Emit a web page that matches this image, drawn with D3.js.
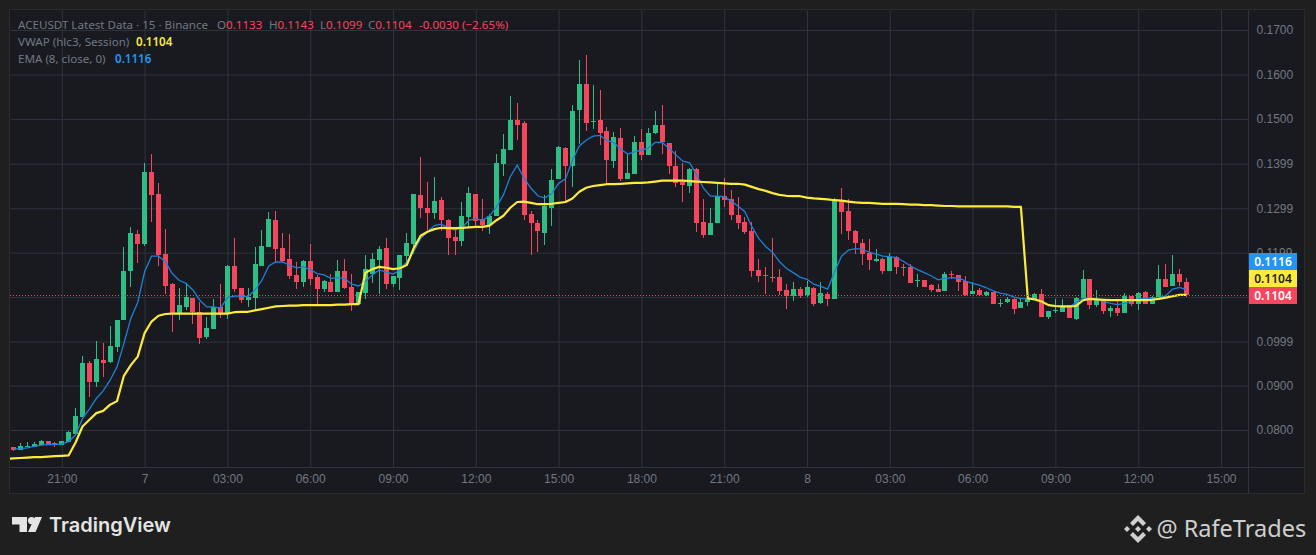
<!DOCTYPE html>
<html>
<head>
<meta charset="utf-8">
<script src="https://cdn.jsdelivr.net/npm/d3@7"></script>
<style>
  html, body { margin: 0; padding: 0; background: #1f1f1f; overflow: hidden; }
  svg { display: block; font-family: 'Noto Sans', sans-serif; }
</style>
</head>
<body>
<div class="container"></div>
<script>
// all prices in units of 0.0001, candle index 0 is 19:15
const opens = [
  762,755,762,762,766,775,771,766,773,791,
  829,951,908,958,953,987,1048,1158,1241,1219,
  1381,1331,1196,1129,1063,1077,1097,1066,1009,1027,
  1077,1061,1169,1120,1093,1097,1169,1212,1273,1210,
  1185,1149,1133,1180,1144,1117,1133,1111,1158,1122,
  1084,1108,1151,1182,1210,1128,1142,1191,1219,1329,
  1300,1288,1317,1272,1234,1225,1279,1331,1275,1261,
  1282,1399,1430,1497,1491,1286,1266,1243,1300,1365,
  1434,1394,1520,1578,1493,1497,1473,1405,1457,1365,
  1376,1448,1419,1468,1486,1446,1394,1358,1349,1387,
  1268,1239,1266,1327,1320,1284,1268,1248,1160,1149,
  1144,1144,1115,1101,1117,1103,1120,1086,1106,1095,
  1317,1293,1248,1221,1198,1180,1185,1158,1189,1167,
  1167,1135,1138,1126,1117,1113,1151,1149,1135,1106,
  1115,1104,1111,1084,1088,1095,1075,1088,1093,1106,
  1054,1068,1066,1079,1050,1097,1140,1081,1095,1068,
  1075,1063,1102,1084,1111,1084,1099,1140,1124,1151,
  1133
]
const highs = [
  762,771,773,773,778,775,773,775,798,849,
  967,955,1000,996,1034,1048,1212,1257,1250,1401,
  1421,1356,1252,1131,1120,1131,1097,1088,1054,1095,
  1129,1171,1232,1120,1120,1212,1250,1291,1293,1243,
  1241,1178,1183,1219,1149,1138,1151,1183,1185,1151,
  1111,1194,1198,1214,1232,1147,1194,1243,1331,1414,
  1358,1369,1324,1275,1252,1313,1347,1331,1320,1286,
  1421,1466,1552,1536,1495,1293,1272,1329,1387,1439,
  1437,1531,1632,1644,1576,1565,1482,1470,1480,1421,
  1462,1477,1480,1518,1531,1446,1428,1401,1390,1390,
  1320,1300,1354,1367,1340,1324,1279,1268,1185,1167,
  1232,1162,1128,1133,1122,1135,1122,1133,1110,1322,
  1344,1320,1250,1230,1230,1207,1187,1198,1191,1174,
  1174,1151,1138,1128,1128,1156,1158,1149,1147,1133,
  1120,1113,1111,1095,1099,1097,1095,1102,1108,1117,
  1068,1095,1095,1081,1099,1160,1140,1115,1095,1079,
  1093,1108,1102,1111,1113,1102,1171,1174,1194,1162,
  1143
]
const lows = [
  753,755,762,762,766,768,762,766,773,791,
  829,874,897,919,951,976,1048,1122,1176,1214,
  1268,1169,1106,1020,1048,1070,1039,994,1005,1027,
  1052,1050,1111,1086,1077,1070,1169,1212,1176,1176,
  1140,1117,1122,1126,1084,1111,1110,1111,1117,1068,
  1084,1095,1131,1106,1117,1122,1115,1171,1196,1277,
  1250,1275,1248,1194,1194,1214,1255,1257,1248,1241,
  1282,1371,1430,1452,1272,1194,1200,1216,1259,1365,
  1313,1347,1444,1473,1477,1441,1353,1389,1360,1365,
  1376,1407,1419,1466,1421,1376,1347,1313,1333,1246,
  1232,1239,1266,1302,1272,1252,1241,1144,1133,1106,
  1133,1104,1072,1090,1097,1099,1079,1084,1079,1095,
  1241,1228,1196,1171,1160,1178,1151,1158,1151,1147,
  1131,1122,1122,1111,1111,1113,1140,1113,1101,1106,
  1102,1102,1084,1077,1086,1061,1075,1079,1093,1054,
  1050,1063,1066,1052,1048,1097,1072,1077,1061,1054,
  1057,1063,1079,1070,1084,1084,1099,1122,1124,1124,
  1099
]
const closes = [
  755,764,764,769,776,768,769,775,796,832,
  951,909,960,951,989,1048,1158,1243,1219,1381,
  1329,1194,1124,1063,1081,1099,1065,1007,1030,1077,
  1059,1169,1117,1093,1099,1174,1214,1275,1207,1180,
  1147,1133,1180,1140,1117,1135,1110,1158,1120,1084,
  1111,1162,1185,1207,1128,1147,1194,1221,1331,1300,
  1288,1315,1272,1232,1225,1282,1333,1270,1261,1282,
  1401,1432,1497,1486,1284,1266,1248,1304,1362,1437,
  1394,1518,1578,1491,1495,1468,1407,1459,1365,1378,
  1448,1419,1468,1486,1448,1394,1356,1351,1387,1266,
  1239,1266,1327,1318,1284,1266,1246,1158,1147,1147,
  1142,1113,1101,1117,1101,1122,1084,1108,1095,1317,
  1290,1248,1221,1196,1183,1185,1158,1189,1167,1165,
  1131,1138,1122,1115,1111,1151,1149,1133,1104,1113,
  1104,1111,1084,1086,1095,1072,1088,1095,1106,1054,
  1068,1070,1079,1052,1097,1140,1081,1095,1068,1075,
  1063,1102,1084,1108,1084,1099,1140,1122,1151,1133,
  1104
]
const vwap = [
  736,737,738,739,739,740,741,742,743,772,
  808,823,838,843,857,865,922,946,965,1018,
  1044,1057,1061,1062,1062,1062,1062,1062,1062,1062,
  1062,1062,1065,1066,1066,1069,1072,1075,1078,1079,
  1080,1080,1081,1081,1081,1081,1081,1082,1082,1083,
  1083,1154,1162,1167,1165,1162,1164,1171,1209,1237,
  1246,1252,1255,1254,1254,1255,1256,1257,1257,1260,
  1272,1282,1300,1313,1314,1311,1308,1308,1309,1311,
  1313,1321,1336,1345,1349,1351,1353,1353,1354,1355,
  1356,1356,1357,1359,1361,1361,1361,1361,1360,1359,
  1358,1357,1356,1355,1354,1354,1352,1347,1342,1338,
  1333,1329,1327,1326,1326,1323,1321,1320,1319,1317,
  1316,1314,1312,1311,1311,1310,1309,1309,1309,1308,
  1307,1307,1306,1306,1305,1304,1304,1303,1303,1303,
  1303,1303,1303,1303,1303,1302,1302,1096,1094,1089,
  1081,1079,1078,1078,1079,1092,1095,1094,1093,1092,
  1092,1092,1092,1092,1092,1093,1095,1098,1101,1104,
  1104
]
// vwap runs in from the candle before the first visible one
const vwapBefore = 735
const ema = [
  757,758,760,763,766,767,767,769,774,789,
  826,847,871,888,912,942,995,1051,1087,1156,
  1191,1191,1179,1152,1137,1130,1115,1092,1077,1077,
  1074,1098,1101,1101,1100,1115,1137,1169,1178,1178,
  1171,1165,1167,1161,1152,1149,1141,1143,1141,1128,
  1124,1134,1149,1160,1155,1151,1160,1179,1201,1231,
  1246,1260,1263,1255,1250,1255,1272,1275,1272,1282,
  1302,1329,1370,1396,1366,1344,1327,1322,1332,1355,
  1365,1407,1439,1452,1461,1463,1451,1447,1432,1421,
  1426,1430,1434,1447,1447,1434,1419,1405,1401,1374,
  1344,1326,1326,1325,1315,1304,1291,1258,1231,1213,
  1200,1179,1164,1154,1144,1139,1128,1123,1117,1156,
  1191,1205,1208,1207,1200,1196,1191,1190,1188,1179,
  1169,1161,1154,1147,1138,1141,1143,1142,1135,1130,
  1126,1120,1113,1108,1105,1099,1096,1095,1096,1089,
  1081,1078,1078,1076,1087,1096,1096,1094,1089,1085,
  1082,1085,1089,1095,1096,1096,1098,1102,1117,1121,
  1116
]

const priceTicks = [0.17, 0.16, 0.15, 0.1399, 0.1299, 0.1199, 0.1099, 0.0999, 0.09, 0.08]
const timeTicks = [7, 19, 31, 43, 55, 67, 79, 91, 103, 115, 127, 139, 151, 163, 175]
const timeLabels = ['21:00', '7', '03:00', '06:00', '09:00', '12:00', '15:00', '18:00', '21:00', '8', '03:00', '06:00', '09:00', '12:00', '15:00']

const lastClose = closes[closes.length - 1]
const lastVwap = vwap[vwap.length - 1]
const lastEma = ema[ema.length - 1]

const W = 1316
const H = 555
const plot = { left: 10, top: 10, right: 1248, bottom: 467 }

const bg = '#181a20'
const gridColor = '#2e333d'
const frameColor = '#2b2b2b'
const textColor = '#727882'
const green = '#2ebd85'
const red = '#f6465d'
const yellow = '#fdeb3b'
const blue = '#1f80d8'

const px = (v) => v / 10000
const fmt = d3.format('.4f')

const svg = d3
  .select('.container')
  .append('svg')
  .attr('width', W)
  .attr('height', H)

svg.append('rect').attr('width', W).attr('height', H).attr('fill', '#1f1f1f')

svg
  .append('clipPath')
  .attr('id', 'plot-clip')
  .append('rect')
  .attr('x', plot.left)
  .attr('y', plot.top)
  .attr('width', plot.right - plot.left)
  .attr('height', plot.bottom - plot.top)

// chart panel incl. the price scale
svg
  .append('rect')
  .attr('x', plot.left - 0.5)
  .attr('y', plot.top - 0.5)
  .attr('width', 1305 - plot.left)
  .attr('height', 494 - plot.top)
  .attr('fill', bg)
  .attr('stroke', frameColor)

const x = d3.scaleLinear().domain([0, 170]).range([13.5, 1186.5])
const y = d3.scaleLinear().domain([0.08, 0.17]).range([430, 30])

// grid comes from the axes themselves
const yAxis = d3
  .axisRight(y)
  .tickValues(priceTicks)
  .tickFormat(fmt)
  .tickSize(-(plot.right - plot.left))
  .tickPadding(8)

const yG = svg
  .append('g')
  .attr('transform', `translate(${plot.right + 0.5},0)`)
  .call(yAxis)
yG.select('.domain').remove()
yG.selectAll('line').attr('stroke', gridColor)
yG.selectAll('text').attr('fill', textColor).attr('font-size', 12)

const xAxis = d3
  .axisBottom(x)
  .tickValues(timeTicks)
  .tickFormat((d, i) => timeLabels[i])
  .tickSize(-(plot.bottom - plot.top))
  .tickPadding(7)

const xG = svg
  .append('g')
  .attr('transform', `translate(0,${plot.bottom + 0.5})`)
  .call(xAxis)
xG.select('.domain').remove()
xG.selectAll('line').attr('stroke', gridColor)
xG.selectAll('text').attr('fill', textColor).attr('font-size', 12)

// axis borders
svg
  .append('line')
  .attr('x1', plot.left)
  .attr('x2', 1305)
  .attr('y1', plot.bottom + 0.5)
  .attr('y2', plot.bottom + 0.5)
  .attr('stroke', gridColor)
svg
  .append('line')
  .attr('x1', plot.right + 0.5)
  .attr('x2', plot.right + 0.5)
  .attr('y1', plot.top)
  .attr('y2', 494)
  .attr('stroke', gridColor)

const candles = opens.map((o, i) => ({ i, o: px(o), h: px(highs[i]), l: px(lows[i]), c: px(closes[i]) }))
const candleColor = (d) => (d.c >= d.o ? green : red)

const candleG = svg.append('g').attr('shape-rendering', 'crispEdges')

candleG
  .selectAll('line')
  .data(candles)
  .enter()
  .append('line')
  .attr('x1', (d) => Math.floor(x(d.i)) + 0.5)
  .attr('x2', (d) => Math.floor(x(d.i)) + 0.5)
  .attr('y1', (d) => y(d.h))
  .attr('y2', (d) => y(d.l))
  .attr('stroke', candleColor)

candleG
  .selectAll('rect')
  .data(candles)
  .enter()
  .append('rect')
  .attr('x', (d) => Math.floor(x(d.i)) - 2)
  .attr('width', 5)
  .attr('y', (d) => y(Math.max(d.o, d.c)))
  .attr('height', (d) => Math.max(1, Math.abs(y(d.o) - y(d.c))))
  .attr('fill', candleColor)

const line = d3
  .line()
  .x((d, i) => x(i))
  .y((d) => y(px(d)))

const vwapLine = d3
  .line()
  .x((d, i) => x(i - 1))
  .y((d) => y(px(d)))

svg
  .append('path')
  .attr('d', line(ema))
  .attr('fill', 'none')
  .attr('stroke', blue)
  .attr('stroke-width', 1.3)

svg
  .append('path')
  .attr('d', vwapLine([vwapBefore, ...vwap]))
  .attr('clip-path', 'url(#plot-clip)')
  .attr('fill', 'none')
  .attr('stroke', yellow)
  .attr('stroke-width', 2.2)
  .attr('stroke-linejoin', 'round')

// last price line
svg
  .append('line')
  .attr('x1', plot.left)
  .attr('x2', plot.right)
  .attr('y1', Math.round(y(px(lastClose))) + 0.5)
  .attr('y2', Math.round(y(px(lastClose))) + 0.5)
  .attr('stroke', red)
  .attr('stroke-dasharray', '1 2')

// price labels on the scale
const priceLabels = [
  { v: lastEma, top: 253, fill: '#2196f3', color: '#ffffff' },
  { v: lastVwap, top: 270, fill: yellow, color: '#1e1e1e' },
  { v: lastClose, top: 287, fill: red, color: '#ffffff' },
]

const labelG = svg
  .selectAll('g.price-label')
  .data(priceLabels)
  .enter()
  .append('g')
  .attr('class', 'price-label')
  .attr('transform', (d) => `translate(1249,${d.top})`)

labelG
  .append('rect')
  .attr('width', 48)
  .attr('height', 17)
  .attr('fill', (d) => d.fill)

labelG
  .append('text')
  .attr('x', 24)
  .attr('y', 12.5)
  .attr('text-anchor', 'middle')
  .attr('font-size', 12)
  .attr('font-weight', 600)
  .attr('fill', (d) => d.color)
  .text((d) => fmt(px(d.v)))

// legend
const legend = svg.append('g').attr('font-size', 11.6).attr('fill', textColor)

const row1 = legend.append('text').attr('x', 18).attr('y', 29)
row1.append('tspan').text('ACEUSDT Latest Data · 15 · Binance')
const ohlc = [
  ['O', opens[170], 217],
  ['H', highs[170], 269],
  ['L', lows[170], 320],
  ['C', closes[170], 368],
]
ohlc.forEach(([k, v, lx]) => {
  row1.append('tspan').attr('x', lx).text(k)
  row1.append('tspan').attr('fill', red).text(fmt(px(v)))
})
row1.append('tspan').attr('x', 419).attr('fill', red).text('-0.0030 (−2.65%)')

const row2 = legend.append('text').attr('x', 18).attr('y', 46)
row2.append('tspan').text('VWAP (hlc3, Session)')
row2.append('tspan').attr('x', 136).attr('fill', yellow).attr('font-weight', 600).text(fmt(px(lastVwap)))

const row3 = legend.append('text').attr('x', 18).attr('y', 63)
row3.append('tspan').text('EMA (8, close, 0)')
row3.append('tspan').attr('x', 115).attr('fill', '#2196f3').attr('font-weight', 600).text(fmt(px(lastEma)))

// TradingView mark
const mark = svg.append('g').attr('fill', '#e4e4e4').attr('transform', 'translate(12,517)')
mark.append('path').attr('d', 'M0 0H15V15H7.5V7.5H0Z')
mark.append('circle').attr('cx', 19.5).attr('cy', 3.6).attr('r', 3.6)
mark.append('path').attr('d', 'M23 0H30L23.5 15H16Z')

svg
  .append('text')
  .attr('x', 49)
  .attr('y', 532)
  .attr('font-family', 'Inter')
  .attr('font-size', 20)
  .attr('font-weight', 600)
  .attr('fill', '#e4e4e4')
  .text('TradingView')

// Binance mark
const bnb = svg.append('g').attr('fill', '#cfcfcf').attr('transform', 'translate(1138,529)')
bnb.append('path').attr('d', 'M0 -3L3 0L0 3L-3 0Z')
bnb.append('path').attr('d', 'M-14 0L-11 -3L-8 0L-11 3Z')
bnb.append('path').attr('d', 'M14 0L11 -3L8 0L11 3Z')
bnb.append('path').attr('d', 'M0 -14L8 -6L5 -3L0 -8L-5 -3L-8 -6Z')
bnb.append('path').attr('d', 'M0 14L8 6L5 3L0 8L-5 3L-8 6Z')

svg
  .append('text')
  .attr('x', 1156.5)
  .attr('y', 537)
  .attr('font-size', 23.5)
  .attr('fill', '#cfcfcf')
  .text('@ RafeTrades')
</script>
</body>
</html>
